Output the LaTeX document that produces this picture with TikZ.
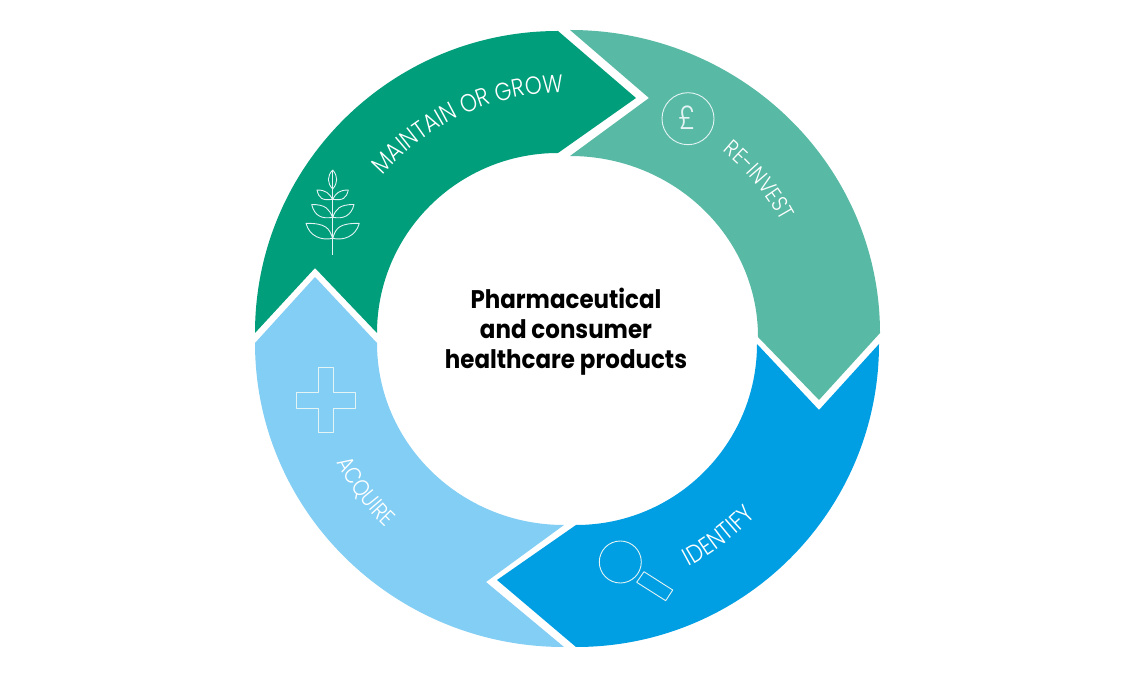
\documentclass[tikz,border=0pt]{standalone}
\usepackage{fontspec}
\setmainfont{Poppins}
\newfontfamily\labelfont[UprightFont=* Light,FakeStretch=0.86]{Poppins}
\newfontfamily\centrefont[FakeStretch=0.9]{Poppins}
\usetikzlibrary{decorations.text}
\definecolor{cgreen}{HTML}{009E7B}
\definecolor{cteal}{HTML}{58BAA5}
\definecolor{cblue}{HTML}{009FE3}
\definecolor{clight}{HTML}{82CEF4}
\definecolor{iconline}{HTML}{E4F3F4}
\tikzset{
  x=1pt,y=1pt,
  iconstroke/.style={draw=iconline,line width=0.9pt,line join=round},
  ringlabel/.style n args={2}{decorate,decoration={text along path,text align=left,text={|\labelfont\fontsize{#1}{#1}\selectfont\color{white}|#2}}},
  centretext/.style={align=center,font=\centrefont\bfseries\fontsize{25.5}{30}\selectfont,text=black,inner sep=0pt},
}
\begin{document}
\begin{tikzpicture}
\useasboundingbox (0,0) rectangle (1136,678);
\fill[white] (0,0) rectangle (1136,678);
\coordinate (c) at (567.5,339);
% segments
\fill[cgreen] (255,345) -- (315,410) -- (377,345) arc[start angle=180,end angle=90,x radius=181,y radius=180] -- (636,580) -- (558,647) arc[start angle=90,end angle=180,x radius=303,y radius=302] -- cycle;
\fill[cteal] (570,648) -- (649,580) -- (570,522) arc[start angle=90,end angle=0,x radius=188,y radius=181] -- (819,278) -- (880,345) arc[start angle=0,end angle=90,x radius=310,y radius=303] -- cycle;
\fill[cblue] (879,334) -- (819,268) -- (757,334) arc[start angle=0,end angle=-90,x radius=181,y radius=181] -- (497,98) -- (576,31) arc[start angle=-90,end angle=0,x radius=303,y radius=303] -- cycle;
\fill[clight] (255,335) -- (315,401) -- (377,335) arc[start angle=180,end angle=270,x radius=187,y radius=182] -- (486,96) -- (564,31) arc[start angle=270,end angle=180,x radius=309,y radius=304] -- cycle;
% curved labels
\path[ringlabel={25}{MAINTAIN OR GROW}] ([shift={(c)}]138.5:247) arc[start angle=138.5,end angle=80,radius=247];
\path[ringlabel={22.5}{RE-INVEST}] ([shift={(c)}]50.5:244) arc[start angle=50.5,end angle=20,radius=244];
\path[ringlabel={25}{IDENTIFY}] ([shift={(c)}]-62:258) arc[start angle=-62,end angle=-34,radius=258];
\path[ringlabel={23}{ACQUIRE}] ([shift={(c)}]208:262) arc[start angle=208,end angle=236,radius=262];
% centre text
\node[centretext] (centre) at (566,346) {Pharmaceutical\\and consumer\\healthcare products};
% leaf icon
\draw[iconstroke] (332.7,508) -- (332.7,423);
\draw[iconstroke] (332.7,508) .. controls (327,502) and (327,495) .. (332.7,489) .. controls (338,495) and (338,502) .. (332.7,508);
\foreach \ay/\ty/\tl/\tr/\k in {478.7/488/317/348.3/1, 460.7/473.5/311.7/354/1.35, 439.7/454.7/306/359.3/1.75}{
  \draw[iconstroke] (332.7,\ay) .. controls (329,\ay+6*\k) and (326,\ty) .. (\tl,\ty) .. controls (\tl+2*\k,\ay+1*\k) and (322,\ay-1.5*\k) .. (332.7,\ay);
  \draw[iconstroke] (332.7,\ay) .. controls (336,\ay+6*\k) and (339,\ty) .. (\tr,\ty) .. controls (\tr-2*\k,\ay+1*\k) and (343,\ay-1.5*\k) .. (332.7,\ay);
}
% pound icon
\draw[iconstroke] (688,559.3) circle[radius=26];
\node[inner sep=0pt,text=iconline,font=\labelfont\fontsize{33}{33}\selectfont] (pound) at (687,560) {£};
% magnifier icon
\draw[iconstroke] (620.3,116) circle[radius=21];
\draw[iconstroke] (644,106.3) -- (672.7,88) -- (665.7,77.3) -- (636.7,95.7) -- cycle;
% plus icon
\draw[iconstroke] (318.3,310.3) -- (333.7,310.3) -- (333.7,286) -- (355.7,286) -- (355.7,270) -- (333.7,270) -- (333.7,245.7) -- (318.3,245.7) -- (318.3,270) -- (296.3,270) -- (296.3,286) -- (318.3,286) -- cycle;
\end{tikzpicture}
\end{document}
